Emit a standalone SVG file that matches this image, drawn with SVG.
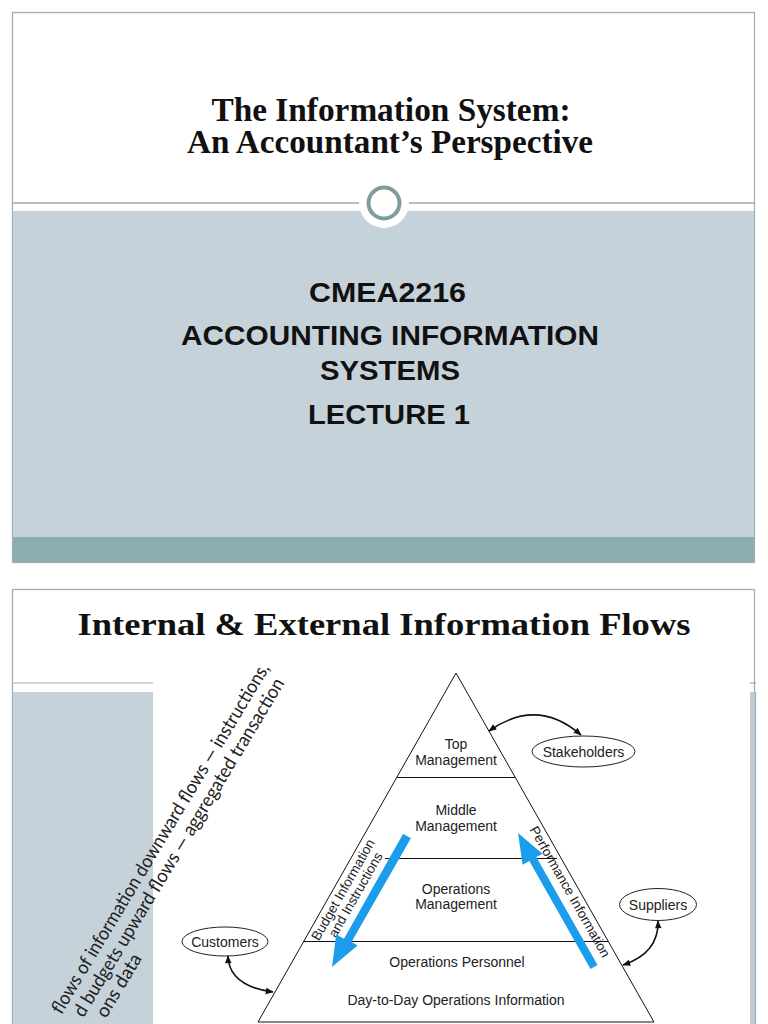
<svg xmlns="http://www.w3.org/2000/svg" width="768" height="1024" viewBox="0 0 768 1024">
<style>
.frame{fill:#fff;stroke:#9fb0b2;stroke-width:1.3}
.panel{fill:#c6d2d9}
.band{fill:#8cadad}
.ttl{font-family:"Liberation Serif","Times New Roman",serif;font-weight:bold;fill:#111;text-anchor:middle}
.hd{font-family:"Liberation Sans",Arial,sans-serif;font-weight:bold;fill:#111;text-anchor:middle;font-size:27px}
.lbl{font-family:"Liberation Sans",Arial,sans-serif;fill:#222;text-anchor:middle;font-size:14px}
.side{font-family:"Liberation Sans",Arial,sans-serif;fill:#222;text-anchor:middle;font-size:13.5px}
.rot{font-family:"Lato","Open Sans",sans-serif;fill:#222;font-size:19px}
.ln{stroke:#111;stroke-width:1;fill:none}
.cv{stroke:#111;stroke-width:1.6;fill:none;marker-start:url(#ah);marker-end:url(#ah)}
.blue{fill:#1b9deb}
.el{fill:#fff;stroke:#222;stroke-width:1}
</style>
<defs>
<marker id="ah" viewBox="0 0 10 10" refX="9" refY="5" markerWidth="9" markerHeight="8" markerUnits="userSpaceOnUse" orient="auto-start-reverse"><path d="M0,1 L10,5 L0,9 z" fill="#111"/></marker>
</defs>
<rect width="768" height="1024" fill="#fff"/>
<g id="slide1">
<rect class="frame" x="12.5" y="12.5" width="742" height="550"/>
<rect class="panel" x="13" y="211" width="741" height="326"/>
<rect class="band" x="13" y="537" width="741" height="25"/>
<line x1="12.5" y1="203" x2="755" y2="203" stroke="#9aaaab" stroke-width="1.5"/>
<circle cx="384" cy="203" r="25" fill="#fff"/>
<circle cx="384" cy="203" r="15.5" fill="#fff" stroke="#7e9d9c" stroke-width="4"/>
<text class="ttl" x="391" y="121" font-size="33" textLength="359" lengthAdjust="spacingAndGlyphs">The Information System:</text>
<text class="ttl" x="390" y="153" font-size="33" textLength="406" lengthAdjust="spacingAndGlyphs">An Accountant’s Perspective</text>
<text class="hd" x="387.5" y="302" textLength="157" lengthAdjust="spacingAndGlyphs">CMEA2216</text>
<text class="hd" x="390" y="345" textLength="418" lengthAdjust="spacingAndGlyphs">ACCOUNTING INFORMATION</text>
<text class="hd" x="390" y="380" textLength="140" lengthAdjust="spacingAndGlyphs">SYSTEMS</text>
<text class="hd" x="389" y="424" textLength="162" lengthAdjust="spacingAndGlyphs">LECTURE 1</text>
</g>
<g id="slide2">
<rect class="frame" x="12.5" y="589.5" width="742" height="500"/>
<line x1="12.5" y1="683" x2="153" y2="683" stroke="#9aaaab" stroke-width="1.2"/>
<rect class="panel" x="13" y="692" width="140" height="332"/>
<rect x="750" y="692" width="6" height="332" fill="#c0ccd3"/>
<line x1="755.5" y1="692" x2="755.5" y2="1024" stroke="#9fb0b2" stroke-width="1.3"/>
<line x1="750" y1="683" x2="756" y2="683" stroke="#9aaaab" stroke-width="1.2"/>
<text class="ttl" x="384" y="635" font-size="31" textLength="613" lengthAdjust="spacingAndGlyphs">Internal &amp; External Information Flows</text>
</g>
<g id="rotated-text">
<text class="rot" transform="translate(270,668) rotate(-59)" text-anchor="end" textLength="405" lengthAdjust="spacingAndGlyphs">flows of information downward flows — instructions,</text>
<text class="rot" transform="translate(285,683) rotate(-59)" text-anchor="end" textLength="391" lengthAdjust="spacingAndGlyphs">d budgets upward flows — aggregated transaction</text>
<text class="rot" transform="translate(106,1019) rotate(-59)" text-anchor="start">ons data</text>
</g>
<g id="pyramid">
<polygon points="456,673 258,1022 654,1022" fill="#fff" stroke="#111" stroke-width="1"/>
</g>
<g id="top-management">
<line class="ln" x1="397" y1="777.5" x2="515" y2="777.5"/>
<text class="lbl" x="456" y="749">Top</text>
<text class="lbl" x="456" y="765">Management</text>
</g>
<g id="middle-management">
<line class="ln" x1="385" y1="858.5" x2="557" y2="858.5"/>
<text class="lbl" x="456" y="815">Middle</text>
<text class="lbl" x="456" y="831">Management</text>
</g>
<g id="operations-management">
<line class="ln" x1="303" y1="941.5" x2="608" y2="941.5"/>
<text class="lbl" x="456" y="894">Operations</text>
<text class="lbl" x="456" y="909">Management</text>
</g>
<g id="operations-personnel">
<text class="lbl" x="457" y="967">Operations Personnel</text>
<text class="lbl" x="456" y="1005">Day-to-Day Operations Information</text>
</g>
<g id="budget-label">
<text class="side" transform="translate(347,892) rotate(-60.3)">Budget Information</text>
<text class="side" transform="translate(359.5,897) rotate(-60.3)">and Instructions</text>
</g>
<g id="performance-label">
<text class="side" transform="translate(566,894) rotate(60.3)">Performance Information</text>
</g>
<g id="stakeholders">
<ellipse class="el" cx="583.5" cy="751.5" rx="51.5" ry="15.5"/>
<text class="lbl" x="583.5" y="756.5">Stakeholders</text>
</g>
<g id="suppliers">
<ellipse class="el" cx="658" cy="904.5" rx="38.5" ry="16"/>
<text class="lbl" x="658" y="909.5">Suppliers</text>
</g>
<g id="customers">
<ellipse class="el" cx="225" cy="941.5" rx="43" ry="14.5"/>
<text class="lbl" x="225" y="946.5">Customers</text>
</g>
<g id="connectors">
<path class="cv" d="M489,731 Q537,697 581,735"/>
<path class="cv" d="M658,921 Q659,953 623,965"/>
<path class="cv" d="M228,956 Q229,986 273,992"/>
<polygon class="blue" points="403.1,833.8 410.9,838.2 351.5,942 357.6,945.5 332,967 336.2,934.5 344,938.8"/>
<polygon class="blue" points="590.5,969 597.5,965 536.3,857.1 542.5,853.7 518,833 522.6,864.7 529.3,861.1"/>
</g>
</svg>
